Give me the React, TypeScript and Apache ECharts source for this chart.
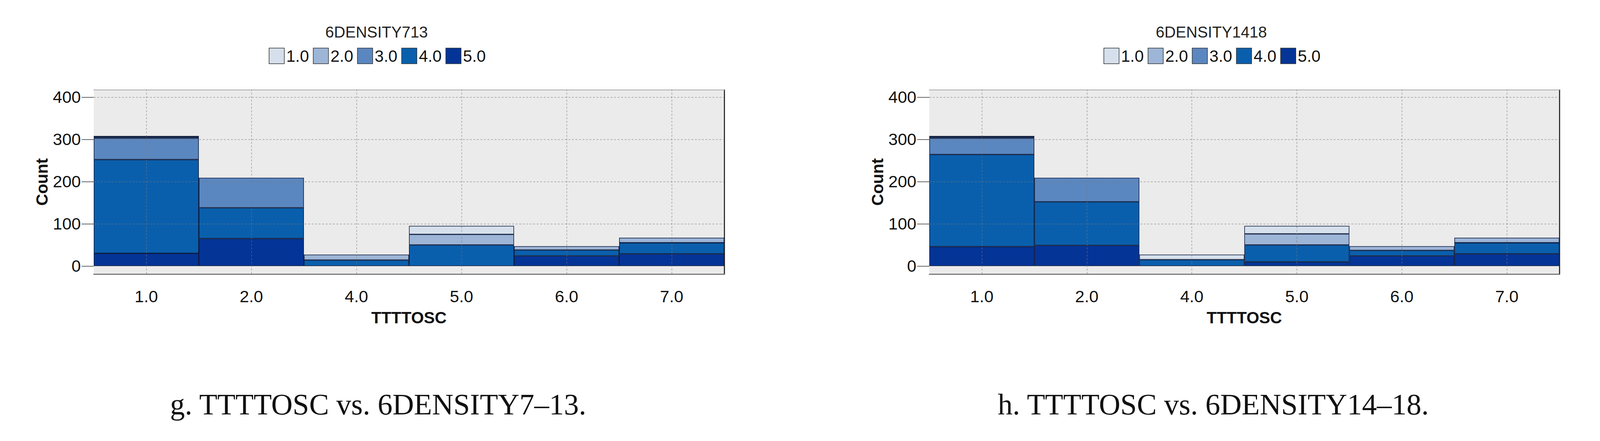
import React, { useEffect, useRef } from "react";
import * as echarts from "echarts";

const categories = ["1.0", "2.0", "4.0", "5.0", "6.0", "7.0"];
const legendNames = ["1.0", "2.0", "3.0", "4.0", "5.0"];
const yTicks = [0, 100, 200, 300, 400];
const hGrid = [100, 200, 300, 400];

// Chart g: TTTTOSC vs 6DENSITY713 (stack bottom -> top: 5.0, 4.0, 3.0, 2.0, 1.0)
const g5 = [30, 65, null, null, 24, 29];
const g4 = [222, 73, 14, 50, 14, 26];
const g3 = [51, 71, null, null, null, null];
const g2 = [3, null, 13, 25, 9, 12];
const g1 = [2, null, null, 20, null, null];

// Chart h: TTTTOSC vs 6DENSITY1418
const h5 = [46, 49, null, 10, 24, 29];
const h4 = [218, 103, 15, 40, 13, 26];
const h3 = [39, 57, null, null, null, null];
const h2 = [3, null, null, 26, 10, 12];
const h1 = [2, null, 12, 19, null, null];

const colors: Record<string, string> = {
  "1.0": "#d6e0ec",
  "2.0": "#9db5d6",
  "3.0": "#5b87c0",
  "4.0": "#0a5fac",
  "5.0": "#053497",
};

const SANS = '"Liberation Sans", Arial, sans-serif';
const SERIF = '"Liberation Serif", "Times New Roman", serif';

const charts = [
  {
    title: "6DENSITY713",
    caption: "g. TTTTOSC vs. 6DENSITY7\u201313.",
    data: { "5.0": g5, "4.0": g4, "3.0": g3, "2.0": g2, "1.0": g1 } as Record<string, (number | null)[]>,
    gridLeft: 240,
    gridWidth: 1614,
    center: 964,
    captionX: 968,
  },
  {
    title: "6DENSITY1418",
    caption: "h. TTTTOSC vs. 6DENSITY14\u201318.",
    data: { "5.0": h5, "4.0": h4, "3.0": h3, "2.0": h2, "1.0": h1 } as Record<string, (number | null)[]>,
    gridLeft: 2379,
    gridWidth: 1613,
    center: 3101,
    captionX: 3106,
  },
];

function buildOption() {
  const grid: any[] = [];
  const xAxis: any[] = [];
  const yAxis: any[] = [];
  const legend: any[] = [];
  const graphic: any[] = [];
  const series: any[] = [];

  charts.forEach((c, ci) => {
    grid.push({
      left: c.gridLeft,
      width: c.gridWidth,
      top: 230,
      height: 471,
      show: true,
      backgroundColor: "#ebebeb",
      borderWidth: 0,
    });
    xAxis.push({
      type: "category",
      gridIndex: ci,
      data: categories,
      position: "bottom",
      name: "TTTTOSC",
      nameLocation: "middle",
      nameGap: 90,
      nameTextStyle: { fontSize: 42, fontWeight: "bold", color: "#111", fontFamily: SANS },
      axisLine: { onZero: false, lineStyle: { color: "#666", width: 2.5 } },
      axisTick: { alignWithLabel: true, length: 30, lineStyle: { color: "#777", width: 1.5 } },
      axisLabel: { fontSize: 43, color: "#111", margin: 35, fontFamily: SANS },
      splitLine: { show: false },
    });
    xAxis.push({
      type: "category",
      gridIndex: ci,
      data: categories,
      position: "top",
      axisLine: { onZero: false, lineStyle: { color: "#aaa", width: 2 } },
      axisTick: { show: false },
      axisLabel: { show: false },
      splitLine: { show: false },
    });
    yAxis.push({
      type: "value",
      gridIndex: ci,
      min: -19,
      max: 417,
      name: "Count",
      nameLocation: "middle",
      nameGap: 112,
      nameRotate: 90,
      nameTextStyle: { fontSize: 42, fontWeight: "bold", color: "#111", fontFamily: SANS },
      axisLine: { show: false },
      axisTick: { show: true, length: 31, customValues: yTicks, lineStyle: { color: "#666", width: 2 } },
      axisLabel: { customValues: yTicks, fontSize: 43, color: "#111", margin: 33, padding: [16, 0, 0, 0], fontFamily: SANS },
      splitLine: { show: false },
    });
    yAxis.push({
      type: "value",
      gridIndex: ci,
      position: "right",
      min: -19,
      max: 417,
      axisLine: { show: true, onZero: false, lineStyle: { color: "#333", width: 3 } },
      axisTick: { show: false },
      axisLabel: { show: false },
      splitLine: { show: false },
    });
    legend.push({
      data: legendNames,
      left: c.center - 276,
      top: 122,
      padding: 0,
      itemWidth: 39,
      itemHeight: 40,
      itemGap: 10,
      icon: "rect",
      selectedMode: false,
      textStyle: { fontSize: 42, color: "#111", fontFamily: SANS },
      itemStyle: { borderColor: "#333", borderWidth: 1.5 },
    });
    graphic.push({
      type: "text",
      x: c.center,
      y: 82,
      style: {
        text: c.title,
        fontSize: 40,
        fontFamily: SANS,
        fill: "#222",
        align: "center",
        verticalAlign: "middle",
      },
    });
    graphic.push({
      type: "text",
      x: c.captionX,
      y: 1034,
      style: {
        text: c.caption,
        fontSize: 76,
        fontFamily: SERIF,
        fill: "#111",
        align: "center",
        verticalAlign: "middle",
      },
    });

    ["5.0", "4.0", "3.0", "2.0", "1.0"].forEach((name, si) => {
      const s: any = {
        type: "bar",
        name,
        xAxisIndex: ci * 2,
        yAxisIndex: ci * 2,
        stack: "stack" + ci,
        data: c.data[name],
        barCategoryGap: "0%",
        itemStyle: { color: colors[name], borderColor: "#0d1b3e", borderWidth: 1.5 },
        emphasis: { disabled: true },
      };
      if (si === 0) {
        s.markLine = {
          silent: true,
          symbol: ["none", "none"],
          label: { show: false },
          emphasis: { disabled: true },
          lineStyle: { type: [5, 4], color: "rgba(120,120,120,0.65)", width: 1.5 },
          data: [
            ...hGrid.map((v) => ({ yAxis: v })),
            ...categories.map((cat) => ({ xAxis: cat })),
          ],
        };
      }
      series.push(s);
    });
  });

  return {
    animation: false,
    backgroundColor: "#ffffff",
    textStyle: { fontFamily: SANS },
    grid,
    xAxis,
    yAxis,
    legend,
    graphic,
    series,
  };
}

export default function App() {
  const ref = useRef<HTMLDivElement>(null);
  useEffect(() => {
    document.body.style.margin = "0";
    document.body.style.overflow = "hidden";
    if (!ref.current) return;
    const chart = echarts.init(ref.current, undefined, { renderer: "svg" });
    chart.setOption(buildOption() as any);
    return () => chart.dispose();
  }, []);
  return <div ref={ref} style={{ width: 4117, height: 1128 }} />;
}
